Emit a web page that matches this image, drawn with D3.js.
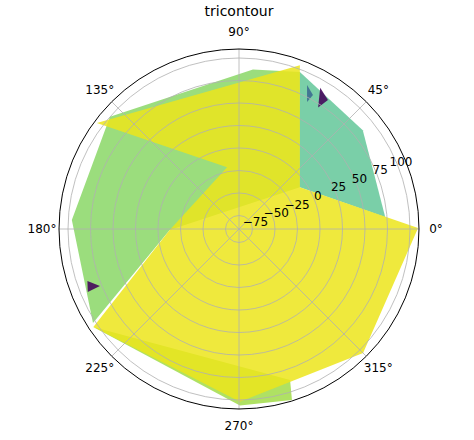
<!DOCTYPE html>
<meta charset="utf-8">
<script src="https://cdn.jsdelivr.net/npm/d3@7"></script>
<body style="margin:0;background:#fff">
<script>
// radial ticks and angle ticks
var rTicks = [-75, -50, -25, 0, 25, 50, 75, 100];
var thetaTicks = [0, 45, 90, 135, 180, 225, 270, 315];

// contour patches: [theta deg, r], level in 0..1
var greenLeft = [[176.9, 96], [139, 100], [85, 88], [68.8, 97], [34.5, -8], [180.8, -13], [212.8, 103]];
var tealRight = [[68.8, 97], [38.6, 86], [4.7, 73], [34.5, -8]];
var greenLow = [[213.9, 105], [270.3, 106], [287.2, 109], [288.7, 87]];
var yellowBig = [[143.3, 107], [69.6, 104], [34.5, -8], [0.3, 109], [315, 105], [270.3, 102], [213.9, 105], [180.8, -13], [100.9, -20]];
var blueSpike = [[64.7, 87], [61.1, 80], [61.8, 70]];
var purpleSpike = [[60.1, 91], [55.4, 84], [56.9, 71]];
var purpleLeft = [[198.9, 88], [202.3, 77], [202.6, 92]];
var patches = [greenLeft, tealRight, greenLow, yellowBig, blueSpike, purpleSpike, purpleLeft];
var levels = [0.8, 0.66, 0.85, 0.97, 0.3, 0.02, 0.02];
var alphas = [0.75, 0.65, 0.8, 0.85, 0.8, 0.9, 0.9];

var W = 474, H = 440, cx = 239, cy = 229, R = 180;
var svg = d3.select("body").append("svg").attr("width", W).attr("height", H)
  .style("font-family", "DejaVu Sans");

var r = d3.scaleLinear().domain([-90, 110]).range([0, R]);
var color = d3.scaleSequential(d3.interpolateViridis).domain([0, 1]);
var g = svg.append("g").attr("transform", "translate(" + cx + "," + cy + ")");

function pt(d) {
  var a = d[0] * Math.PI / 180;
  return [r(d[1]) * Math.cos(a), -r(d[1]) * Math.sin(a)];
}

g.selectAll("path.patch").data(patches).enter().append("path")
  .attr("d", function(p) { return "M" + p.map(pt).join("L") + "Z"; })
  .attr("fill", function(p, i) { return color(levels[i]); })
  .attr("fill-opacity", function(p, i) { return alphas[i]; });

// grid
g.selectAll("circle.grid").data(rTicks).enter().append("circle")
  .attr("r", function(d) { return r(d); })
  .attr("fill", "none").attr("stroke", "#b0b0b0").attr("stroke-width", 0.8);
g.selectAll("line.spoke").data(thetaTicks).enter().append("line")
  .attr("x2", function(d) { return pt([d, 110])[0]; })
  .attr("y2", function(d) { return pt([d, 110])[1]; })
  .attr("stroke", "#b0b0b0").attr("stroke-width", 0.8);
g.append("circle").attr("r", R).attr("fill", "none").attr("stroke", "#000").attr("stroke-width", 1);

// labels
g.selectAll("text.rt").data(rTicks).enter().append("text")
  .attr("x", function(d) { return pt([22.5, d])[0] + 4; })
  .attr("y", function(d) { return pt([22.5, d])[1] + 2; })
  .attr("text-anchor", "middle").attr("font-size", 12)
  .text(function(d) { return d < 0 ? "\u2212" + (-d) : d; });
g.selectAll("text.tt").data(thetaTicks).enter().append("text")
  .attr("x", function(d) { return 197 * Math.cos(d * Math.PI / 180); })
  .attr("y", function(d) { return -197 * Math.sin(d * Math.PI / 180) + 4; })
  .attr("text-anchor", "middle").attr("font-size", 12)
  .text(function(d) { return d + "\u00b0"; });

svg.append("text").attr("x", cx).attr("y", 16).attr("text-anchor", "middle")
  .attr("font-size", 14).text("tricontour");
</script>
</body>
